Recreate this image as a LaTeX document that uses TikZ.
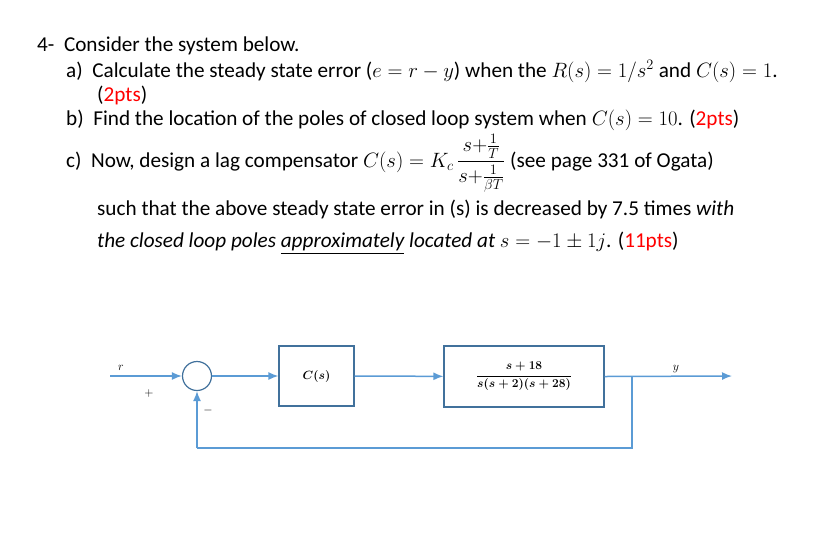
\documentclass[tikz,border=0pt]{standalone}
\usepackage{fontspec}
\setmainfont{Carlito}
\usepackage{amsmath}
\usetikzlibrary{arrows.meta}
\definecolor{ln}{HTML}{5B9BD5}
\definecolor{bx}{HTML}{41719C}
\definecolor{rd}{HTML}{FF0000}
\begin{document}
\begin{tikzpicture}[x=1pt,y=-1pt,
  txt/.style={anchor=base west,inner sep=0,font=\fontsize{21.2}{24}\selectfont},
  blk/.style={draw=bx,line width=1.2pt,inner sep=0},
  sig/.style={ln,line width=1.5pt,-{Latex[length=10pt,width=8pt]}},
  wire/.style={ln,line width=1.5pt},
  lab/.style={font=\fontsize{12}{14}\selectfont,inner sep=0}]
\useasboundingbox (0,0) rectangle (837,558);
\node[txt] (t0) at (37,51) {4-\ \ Consider the system below.};
\node[txt] (ta) at (66,77) {a)\ \ Calculate the steady state error ($e=r-y$) when the $R(s)=1/s^2$ and $C(s)=1$.};
\node[txt] (ta2) at (97,101) {(\textcolor{rd}{2pts})};
\node[txt] (tb) at (66,125) {b)\ \ Find the location of the poles of closed loop system when $C(s)=10$. (\textcolor{rd}{2pts})};
\node[txt] (tc) at (66,167) {c)\ \ Now, design a lag compensator $C(s)=K_c\,\dfrac{s{+}\frac{1}{T}}{s{+}\frac{1}{\beta T}}$ (see page 331 of Ogata)};
\node[txt] (td) at (97,215) {such that the above steady state error in (s) is decreased by 7.5 times \textit{with}};
\node[txt] (te) at (97,247) {\textit{the closed loop poles \underline{approximately} located at} $s=-1\pm 1j$. (\textcolor{rd}{11pts})};
% diagram
\node[draw=bx,line width=1.2pt,circle,minimum size=29pt,inner sep=0] (sum) at (197,376) {};
\node[blk,minimum width=75pt,minimum height=60pt] (c) at (316.5,376) {\fontsize{13}{15}\selectfont$\boldsymbol{C(s)}$};
\node[blk,minimum width=160pt,minimum height=61pt] (g) at (524,376.5) {\fontsize{13}{15}\selectfont$\boldsymbol{\dfrac{s+18}{s(s+2)(s+28)}}$};
\coordinate (rin) at (110,376);
\coordinate (tap) at (632,376);
\coordinate (yout) at (732,376);
\coordinate (fb1) at (632,448);
\coordinate (fb2) at (197,448);
\draw[sig] (rin) -- (sum);
\draw[sig] (sum) -- (c);
\draw[sig] (c) -- (g);
\draw[sig] (g.east) -- (yout);
\draw[wire] (tap) -- (fb1) -- (fb2);
\draw[sig] (fb2) -- (sum.south);
\node[lab] (lr) at (121,368) {$r$};
\node[lab] (lp) at (149,393) {$+$};
\node[lab] (lm) at (208,410) {$-$};
\node[lab] (ly) at (676,369) {$y$};
\end{tikzpicture}
\end{document}
